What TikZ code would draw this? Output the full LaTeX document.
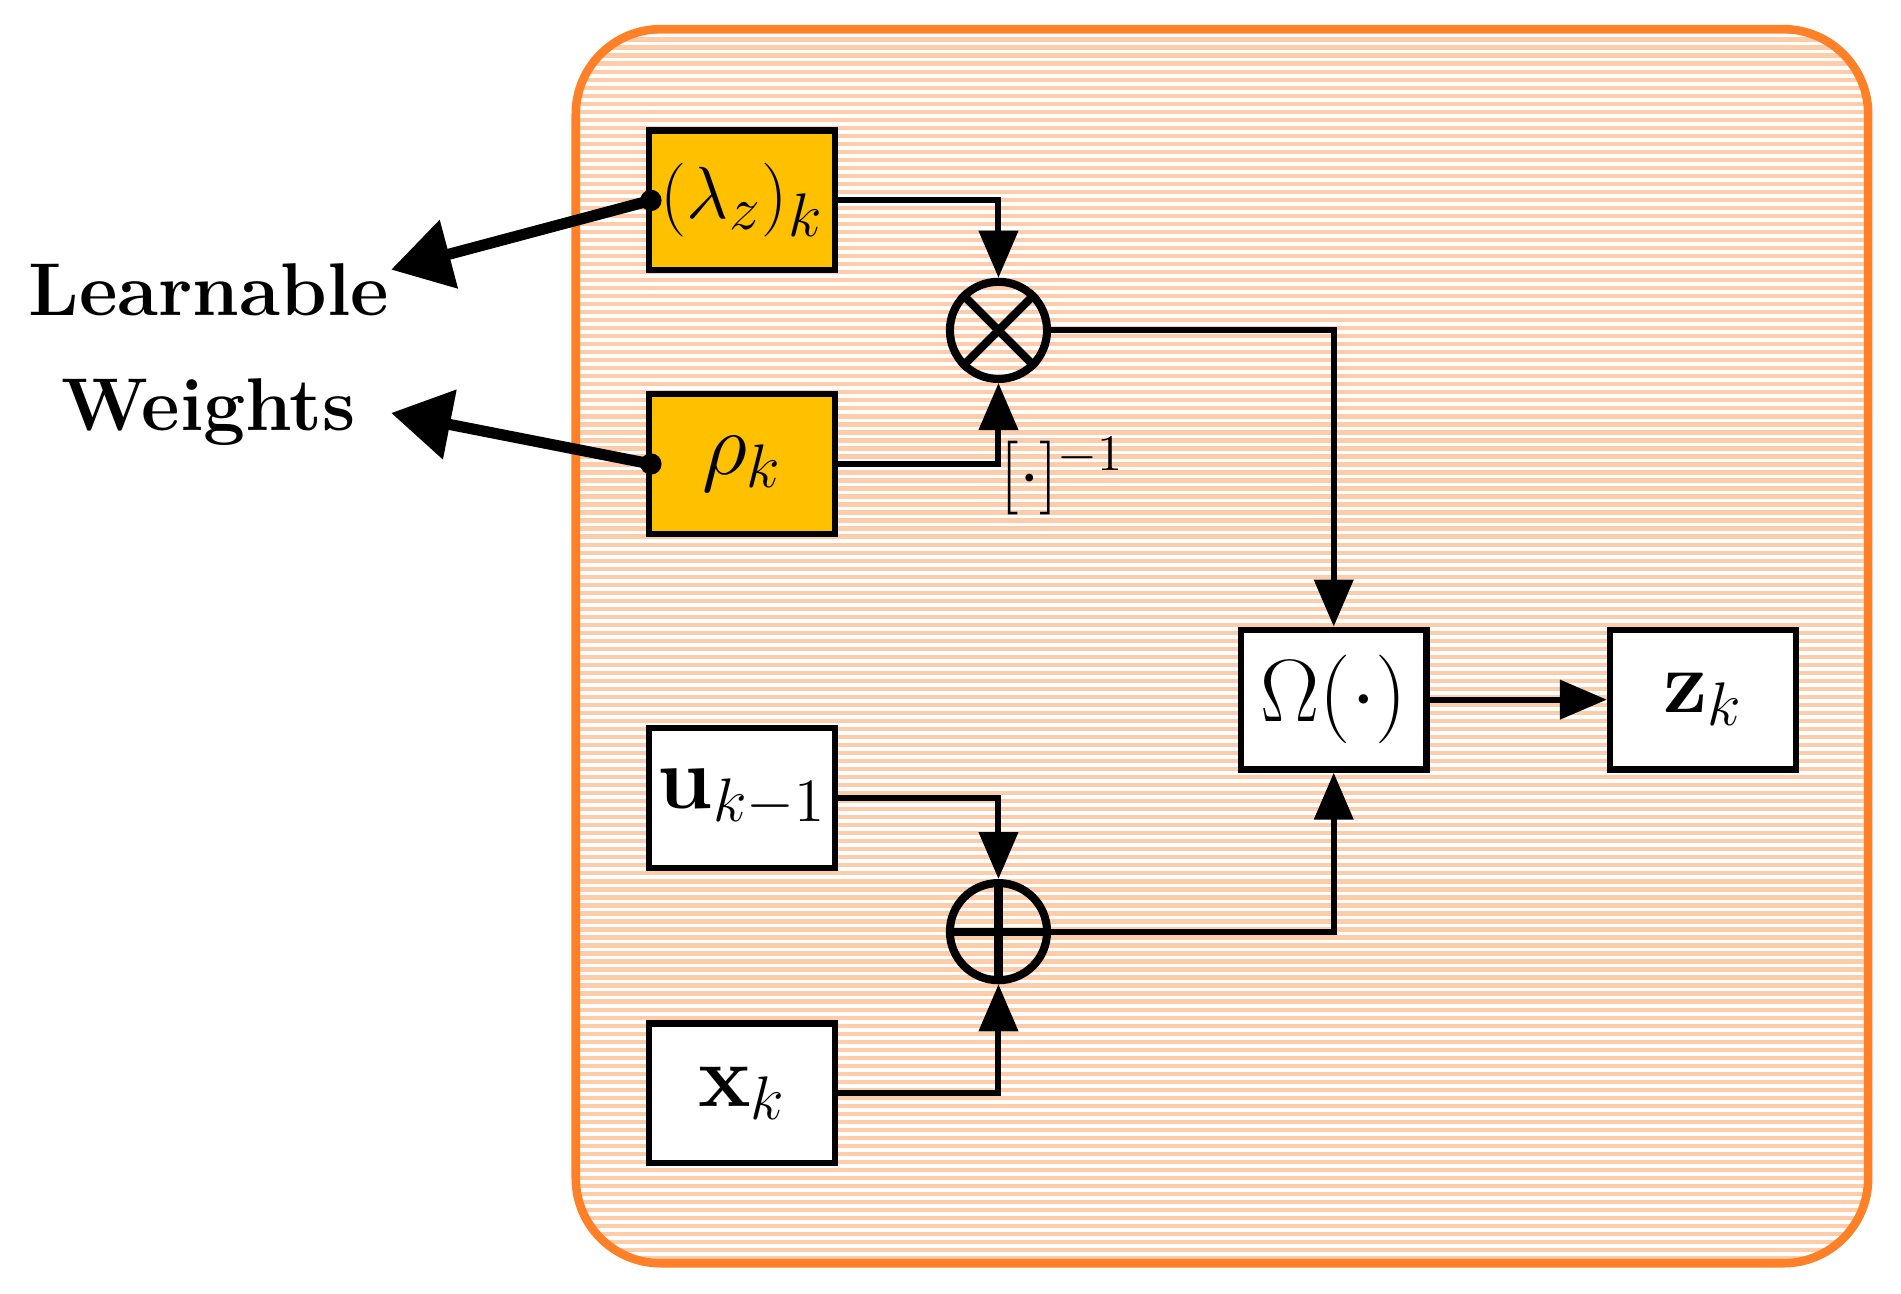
\documentclass[tikz,border=0pt]{standalone}
\usepackage{bm}
\usetikzlibrary{arrows.meta}
\begin{document}
\begin{tikzpicture}[x=0.01cm,y=-0.01cm,
  box/.style={draw,line width=1.5pt,minimum width=153*0.01cm,minimum height=115*0.01cm,inner sep=0pt,font=\fontsize{20}{24}\selectfont},
  wt/.style={box,fill={rgb,255:red,255;green,192;blue,0}},
  op/.style={draw,circle,line width=1.9pt,minimum size=80*0.01cm,inner sep=0pt},
  con/.style={line width=1.4pt,-{Triangle[length=11pt,width=9pt]}},
  big/.style={line width=2.6pt,-{Triangle[length=14pt,width=16pt]}}]
\useasboundingbox (0,0) rectangle (1565,1065);
\definecolor{orng}{RGB}{255,128,38}
\definecolor{strp}{RGB}{255,204,170}
\begin{scope}
\clip[rounded corners=70*0.01cm] (474,24) rectangle (1538,1040);
\foreach \i in {0,...,155}{\draw[strp,line width=1pt] (470,{26+\i*6.6}) -- (1540,{26+\i*6.6});}
\end{scope}
\draw[orng,line width=2pt,rounded corners=70*0.01cm] (474,24) rectangle (1538,1040);
\node[wt,font=\fontsize{19}{24}\selectfont] (lam) at (611,165) {$(\lambda_z)_k$};
\node[wt] (rho) at (611,382) {$\rho_k$};
\node[box,fill=white] (u) at (611,657) {$\mathbf{u}_{k-1}$};
\node[box,fill=white] (x) at (611,900) {$\mathbf{x}_k$};
\node[box,fill=white] (om) at (1098,576) {$\Omega(\cdot)$};
\node[box,fill=white] (z) at (1402,576) {$\mathbf{z}_k$};
\node[op] (mul) at (822,272) {};
\draw[line width=1.9pt] (mul.45) -- (mul.225) (mul.135) -- (mul.315);
\node[op] (add) at (822,767) {};
\draw[line width=1.9pt] (add.north) -- (add.south) (add.east) -- (add.west);
\node[font=\fontsize{17}{22}\selectfont] (inv) at (875,392) {$[\cdot]^{-1}$};
\draw[con] (lam.east) -| (mul.north);
\draw[con] (rho.east) -| (mul.south);
\draw[con] (u.east) -| (add.north);
\draw[con] (x.east) -| (add.south);
\draw[con] (mul.east) -| (om.north);
\draw[con] (add.east) -| (om.south);
\draw[con] (om.east) -- (z.west);
\node[font=\bfseries\fontsize{17.5}{27}\selectfont,align=center] (lw) at (172,292) {Learnable\\Weights};
\coordinate (a1) at (322,222);
\coordinate (a2) at (322,340);
\fill ([xshift=4*0.01cm]lam.west) circle (2.5pt);
\fill ([xshift=4*0.01cm]rho.west) circle (2.5pt);
\draw[big] ([xshift=4*0.01cm]lam.west) -- (a1);
\draw[big] ([xshift=4*0.01cm]rho.west) -- (a2);
\end{tikzpicture}
\end{document}
